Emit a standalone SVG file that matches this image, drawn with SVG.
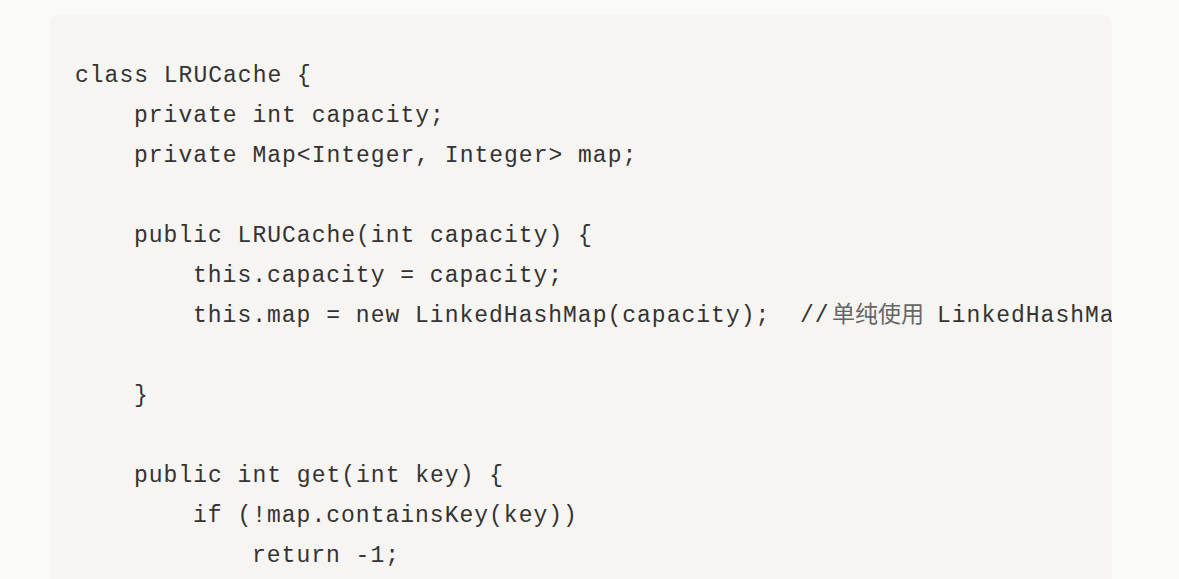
<svg xmlns="http://www.w3.org/2000/svg" width="1179" height="579" viewBox="0 0 1179 579">
<style>
.c{font-family:"Liberation Mono","DejaVu Sans Mono",monospace;font-size:23px;letter-spacing:1px;fill:#333;white-space:pre}
.z{font-family:"Noto Sans CJK SC",sans-serif;font-size:23px;fill:#666}
</style>
<defs><clipPath id="clip"><rect x="50" y="15" width="1062" height="600" rx="8"/></clipPath></defs>
<rect width="1179" height="579" fill="#fafaf8"/>
<g id="code-block">
<rect x="50" y="15" width="1062" height="600" rx="8" fill="#f6f5f2"/>
<g clip-path="url(#clip)">
<text class="c" x="75" y="82">class LRUCache {</text>
<text class="c" x="134" y="122">private int capacity;</text>
<text class="c" x="134" y="162">private Map&lt;Integer, Integer&gt; map;</text>
<text class="c" x="134" y="242">public LRUCache(int capacity) {</text>
<text class="c" x="193" y="282">this.capacity = capacity;</text>
<text class="c" x="193" y="322">this.map = new LinkedHashMap(capacity);  //</text>
<text class="z" x="832" y="322">单纯使用</text>
<text class="c" x="937" y="322">LinkedHashMap</text>
<text class="c" x="134" y="402">}</text>
<text class="c" x="134" y="482">public int get(int key) {</text>
<text class="c" x="193" y="522">if (!map.containsKey(key))</text>
<text class="c" x="252" y="562">return -1;</text>
</g>
</g>
</svg>
